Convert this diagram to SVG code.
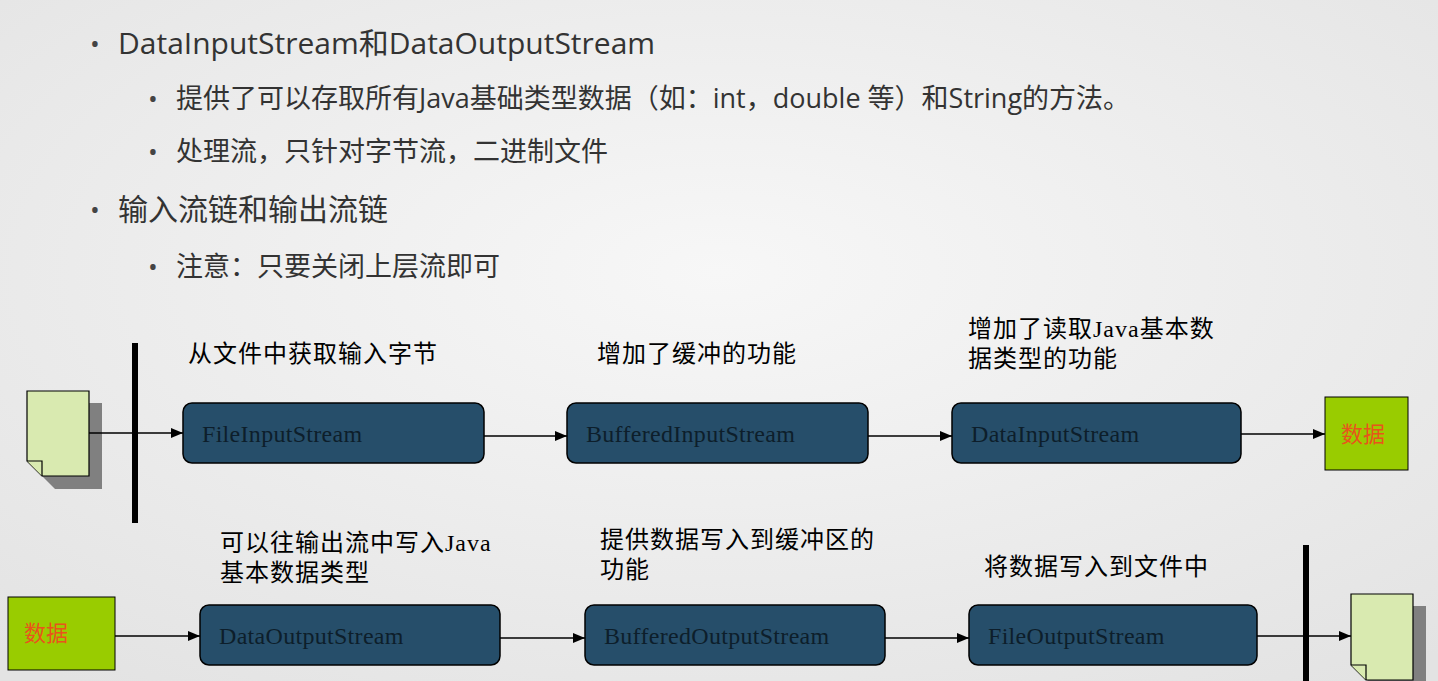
<svg xmlns="http://www.w3.org/2000/svg" width="1438" height="681" viewBox="0 0 1438 681">
<defs>
<radialGradient id="bg" cx="50%" cy="40%" r="75%"><stop offset="0" stop-color="#f7f7f7"/><stop offset="1" stop-color="#e3e3e3"/></radialGradient>
<marker id="ar" markerWidth="12" markerHeight="10" refX="12" refY="5" orient="auto" markerUnits="userSpaceOnUse"><path d="M0,0 L12,5 L0,10 Z" fill="#000"/></marker>
</defs>
<style>
.b1{font-family:"Open Sans","Noto Sans CJK SC",sans-serif;font-size:30px;fill:#333}
.b2{font-family:"Open Sans","Noto Sans CJK SC",sans-serif;font-size:27px;fill:#333}
.bu{font-family:"Open Sans",sans-serif;font-size:26px;fill:#444}
.lb{font-family:"Liberation Serif","Noto Sans CJK SC",serif;font-size:24px;fill:#000;letter-spacing:1px}
.node rect.n{fill:#264e6a;stroke:#000;stroke-width:1.5}
.nt{font-family:"Liberation Serif",serif;font-size:24px;fill:#0d1e2b;letter-spacing:0.3px}
.dt{font-family:"Noto Sans CJK SC",sans-serif;font-size:22px;fill:#e8541c}
.c line{stroke:#000;stroke-width:1.5}
</style>
<rect width="1438" height="681" fill="url(#bg)"/>
<g id="text">
<text x="90" y="53" class="bu">•</text><text x="118" y="54" class="b1">DataInputStream和DataOutputStream</text>
<text x="148" y="108" class="bu">•</text><text x="176" y="108" class="b2">提供了可以存取所有Java基础类型数据（如：int，double 等）和String的方法。</text>
<text x="148" y="161" class="bu">•</text><text x="176" y="161" class="b2">处理流，只针对字节流，二进制文件</text>
<text x="90" y="219" class="bu">•</text><text x="118" y="220" class="b1">输入流链和输出流链</text>
<text x="148" y="276" class="bu">•</text><text x="176" y="276" class="b2">注意：只要关闭上层流即可</text>
<text x="188" y="362" class="lb">从文件中获取输入字节</text>
<text x="597" y="362" class="lb">增加了缓冲的功能</text>
<text x="968" y="337" class="lb">增加了读取Java基本数</text>
<text x="968" y="367" class="lb">据类型的功能</text>
<text x="220" y="551" class="lb">可以往输出流中写入Java</text>
<text x="220" y="581" class="lb">基本数据类型</text>
<text x="600" y="548" class="lb">提供数据写入到缓冲区的</text>
<text x="600" y="578" class="lb">功能</text>
<text x="984" y="575" class="lb">将数据写入到文件中</text>
</g>
<g id="bars">
<rect x="132" y="343" width="6" height="180" fill="#000"/>
<rect x="1303" y="545" width="6" height="136" fill="#000"/>
</g>
<g id="doc-in">
<path d="M40,403 H102 V489 H55 L40,474 Z" fill="#808080"/>
<path d="M27,391 H89 V476 H42 L27,461 Z" fill="#d9eab0" stroke="#000" stroke-width="1.2"/>
<path d="M27,461 H42 V476" fill="#d9eab0" stroke="#000" stroke-width="1.2"/>
</g>
<g id="doc-out">
<path d="M1364,606 H1426 V692 H1379 L1364,677 Z" fill="#808080"/>
<path d="M1351,594 H1413 V680 H1366 L1351,665 Z" fill="#d9eab0" stroke="#000" stroke-width="1.2"/>
<path d="M1351,665 H1366 V680" fill="#d9eab0" stroke="#000" stroke-width="1.2"/>
</g>
<g id="data-in"><rect x="1325" y="397" width="83" height="73" fill="#99cc00" stroke="#000"/><text x="1341" y="442" class="dt">数据</text></g>
<g id="data-out"><rect x="8" y="597" width="107" height="73" fill="#99cc00" stroke="#000"/><text x="24" y="641" class="dt">数据</text></g>
<g id="n1" class="node"><rect class="n" x="183" y="403" width="301" height="60" rx="9"/><text x="202" y="442" class="nt">FileInputStream</text></g>
<g id="n2" class="node"><rect class="n" x="567" y="403" width="301" height="60" rx="9"/><text x="586" y="442" class="nt">BufferedInputStream</text></g>
<g id="n3" class="node"><rect class="n" x="952" y="403" width="289" height="60" rx="9"/><text x="971" y="442" class="nt">DataInputStream</text></g>
<g id="n4" class="node"><rect class="n" x="200" y="605" width="300" height="60" rx="9"/><text x="219" y="644" class="nt">DataOutputStream</text></g>
<g id="n5" class="node"><rect class="n" x="585" y="605" width="300" height="60" rx="9"/><text x="604" y="644" class="nt">BufferedOutputStream</text></g>
<g id="n6" class="node"><rect class="n" x="969" y="605" width="288" height="60" rx="9"/><text x="988" y="644" class="nt">FileOutputStream</text></g>
<g id="connectors" class="c">
<line x1="89" y1="433" x2="183" y2="433" marker-end="url(#ar)"/>
<line x1="484" y1="436" x2="567" y2="436" marker-end="url(#ar)"/>
<line x1="868" y1="436" x2="952" y2="436" marker-end="url(#ar)"/>
<line x1="1241" y1="434" x2="1325" y2="434" marker-end="url(#ar)"/>
<line x1="115" y1="636" x2="200" y2="636" marker-end="url(#ar)"/>
<line x1="500" y1="638" x2="585" y2="638" marker-end="url(#ar)"/>
<line x1="885" y1="638" x2="969" y2="638" marker-end="url(#ar)"/>
<line x1="1257" y1="636" x2="1351" y2="636" marker-end="url(#ar)"/>
</g>
</svg>
